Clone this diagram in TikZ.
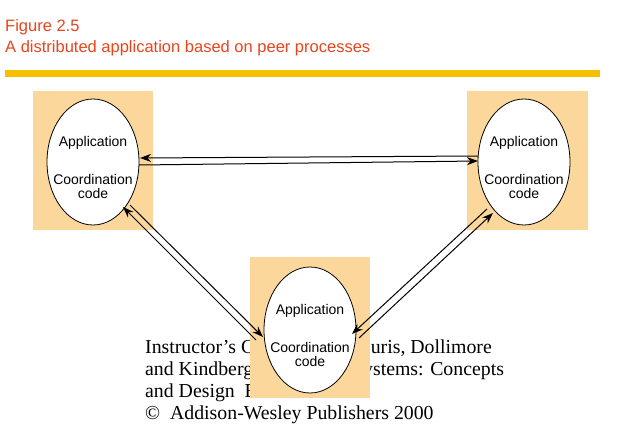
\documentclass[tikz,border=0pt]{standalone}
\usepackage{fontspec}
\setmainfont{Liberation Serif}
\newfontfamily\sans{Liberation Sans}
\usetikzlibrary{arrows.meta,shapes.geometric}
\definecolor{boxc}{HTML}{FCD79B}
\definecolor{barc}{HTML}{F5C000}
\definecolor{titc}{HTML}{E8441C}
\begin{document}
\begin{tikzpicture}[x=1pt,y=-1pt,
  box/.style={fill=boxc,draw=none},
  proc/.style={ellipse,draw,thick,fill=white,minimum width=92pt,minimum height=126pt,inner sep=0pt},
  lbl/.style={font=\sans\fontsize{14}{14}\selectfont,align=center},
  arr/.style={-{Stealth[length=11pt,width=8pt]},line width=1pt}]
\useasboundingbox (0,0) rectangle (638,442);
\node[anchor=base west,font=\sans\fontsize{16.5}{17}\selectfont,text=titc,inner sep=0] (t1) at (5,31) {Figure 2.5};
\node[anchor=base west,font=\sans\fontsize{16.5}{17}\selectfont,text=titc,inner sep=0] (t2) at (5,52) {A distributed application based on peer processes};
\fill[barc] (5,70) rectangle (600,77);
\node[anchor=north west,font=\fontsize{19.8}{22}\selectfont,align=left,inner sep=0] (cr) at (145,339) {Instructor’s Guide for Coulouris, Dollimore\\and Kindberg Distributed Systems: Concepts\\and Design \ Edn. 3\\©\ \ Addison-Wesley Publishers 2000};
\fill[box] (33,91) rectangle (153,230);
\fill[box] (467,91) rectangle (588,230);
\fill[box] (250,257) rectangle (370,398);
\node[proc] (L) at (93,162) {};
\node[proc] (R) at (524,162) {};
\node[proc] (B) at (310,330) {};
\foreach \n/\x/\y in {L/93/162,R/524/162,B/310/330}{
  \node[lbl] (\n a) at (\x,\y-19) {Application};
  \node[lbl] (\n c) at (\x,\y+24) {Coordination\\code};
}
\coordinate (l1) at (140,158); \coordinate (r1) at (478,156);
\coordinate (l2) at (139,165); \coordinate (r2) at (478,161);
\draw[arr] (r1) -- (l1);
\draw[arr] (l2) -- (r2);
\coordinate (ld1) at (123,207); \coordinate (bd1) at (256,340);
\coordinate (ld2) at (130,205); \coordinate (bd2) at (263,337);
\draw[arr] (bd1) -- (ld1);
\draw[arr] (ld2) -- (bd2);
\coordinate (rd1) at (487,209); \coordinate (bd3) at (352,334);
\coordinate (rd2) at (493,213); \coordinate (bd4) at (359,338);
\draw[arr] (rd1) -- (bd3);
\draw[arr] (bd4) -- (rd2);
\end{tikzpicture}
\end{document}
